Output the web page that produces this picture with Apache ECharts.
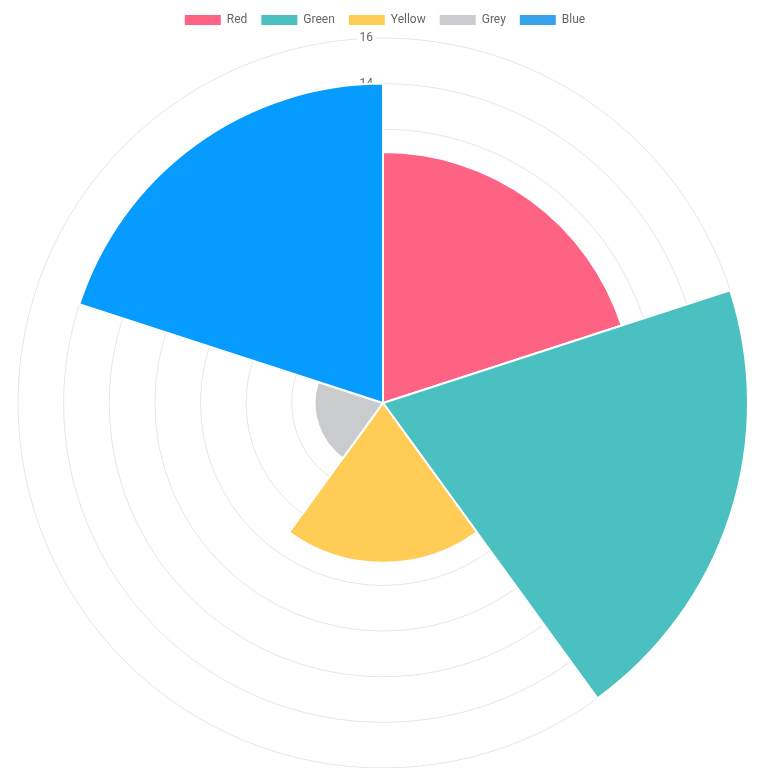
<!DOCTYPE html>
<html><head><meta charset="utf-8">
<script src="https://cdn.jsdelivr.net/npm/echarts@6/dist/echarts.min.js"></script>
<style>html,body{margin:0;background:#fff}#c{width:768px;height:768px}</style>
</head><body><div id="c"></div>
<script>
var labels = ['Red', 'Green', 'Yellow', 'Grey', 'Blue'];
var values = [11, 16, 7, 3, 14];
var colors = ['#ff6384', '#4bc0c0', '#ffcd56', '#c9cbcf', '#36a2eb'];
var fills = ['#ff6384', '#4bc0c0', '#ffcd56', '#c9cbcf', '#059bff'];
var radiusTicks = [0, 2, 4, 6, 8, 10, 12, 14, 16];

var chart = echarts.init(document.getElementById('c'));
var series = labels.map(function (name, i) {
  var d = labels.map(function (_, j) {
    return j === i ? { value: values[i], itemStyle: { color: fills[i] } } : '-';
  });
  return {
    name: name, type: 'bar', coordinateSystem: 'polar', stack: 'a',
    barCategoryGap: '0%', z: 2,
    itemStyle: { color: colors[i], borderColor: '#fff', borderWidth: 2 },
    data: d
  };
});
chart.setOption({
  animation: false,
  textStyle: { fontFamily: 'Roboto, Arial, sans-serif' },
  legend: {
    top: 8, itemWidth: 38, itemHeight: 12, itemGap: 12, icon: 'rect',
    textStyle: { color: '#666', fontSize: 12 }, data: labels
  },
  polar: { center: [383, 403], radius: 365 },
  angleAxis: {
    type: 'category', data: labels, startAngle: 90, clockwise: true,
    axisLine: { show: false }, axisTick: { show: false }, axisLabel: { show: false },
    splitLine: { show: false }
  },
  radiusAxis: {
    min: radiusTicks[0], max: radiusTicks[radiusTicks.length - 1], interval: 2, z: 1,
    axisLine: { show: false }, axisTick: { show: false },
    axisLabel: { color: '#666', fontSize: 12, backgroundColor: '#fff', padding: [0, 2],
      formatter: function (v) { return v === 0 ? '' : v; } },
    splitLine: { show: true, lineStyle: { color: '#e6e6e6' } }
  },
  series: series,
  graphic: [{
    type: 'group', left: 297, top: 263, z: 100,
    children: [
      { type: 'polygon', shape: { points: [[0, 11], [6, 5], [6, 17]] }, style: { fill: 'rgba(0,0,0,0.85)' } },
      { type: 'rect', shape: { x: 6, y: 0, width: 65, height: 23, r: 4 }, style: { fill: 'rgba(0,0,0,0.85)' } },
      { type: 'rect', shape: { x: 11, y: 5, width: 12, height: 12 }, style: { fill: '#059bff', stroke: '#fff', lineWidth: 2 } },
      { type: 'text', x: 27, y: 5, style: { text: labels[4] + ': ' + values[4], fill: '#fff', font: 'bold 12px Roboto, Arial, sans-serif' } }
    ]
  }]
});
</script></body></html>
